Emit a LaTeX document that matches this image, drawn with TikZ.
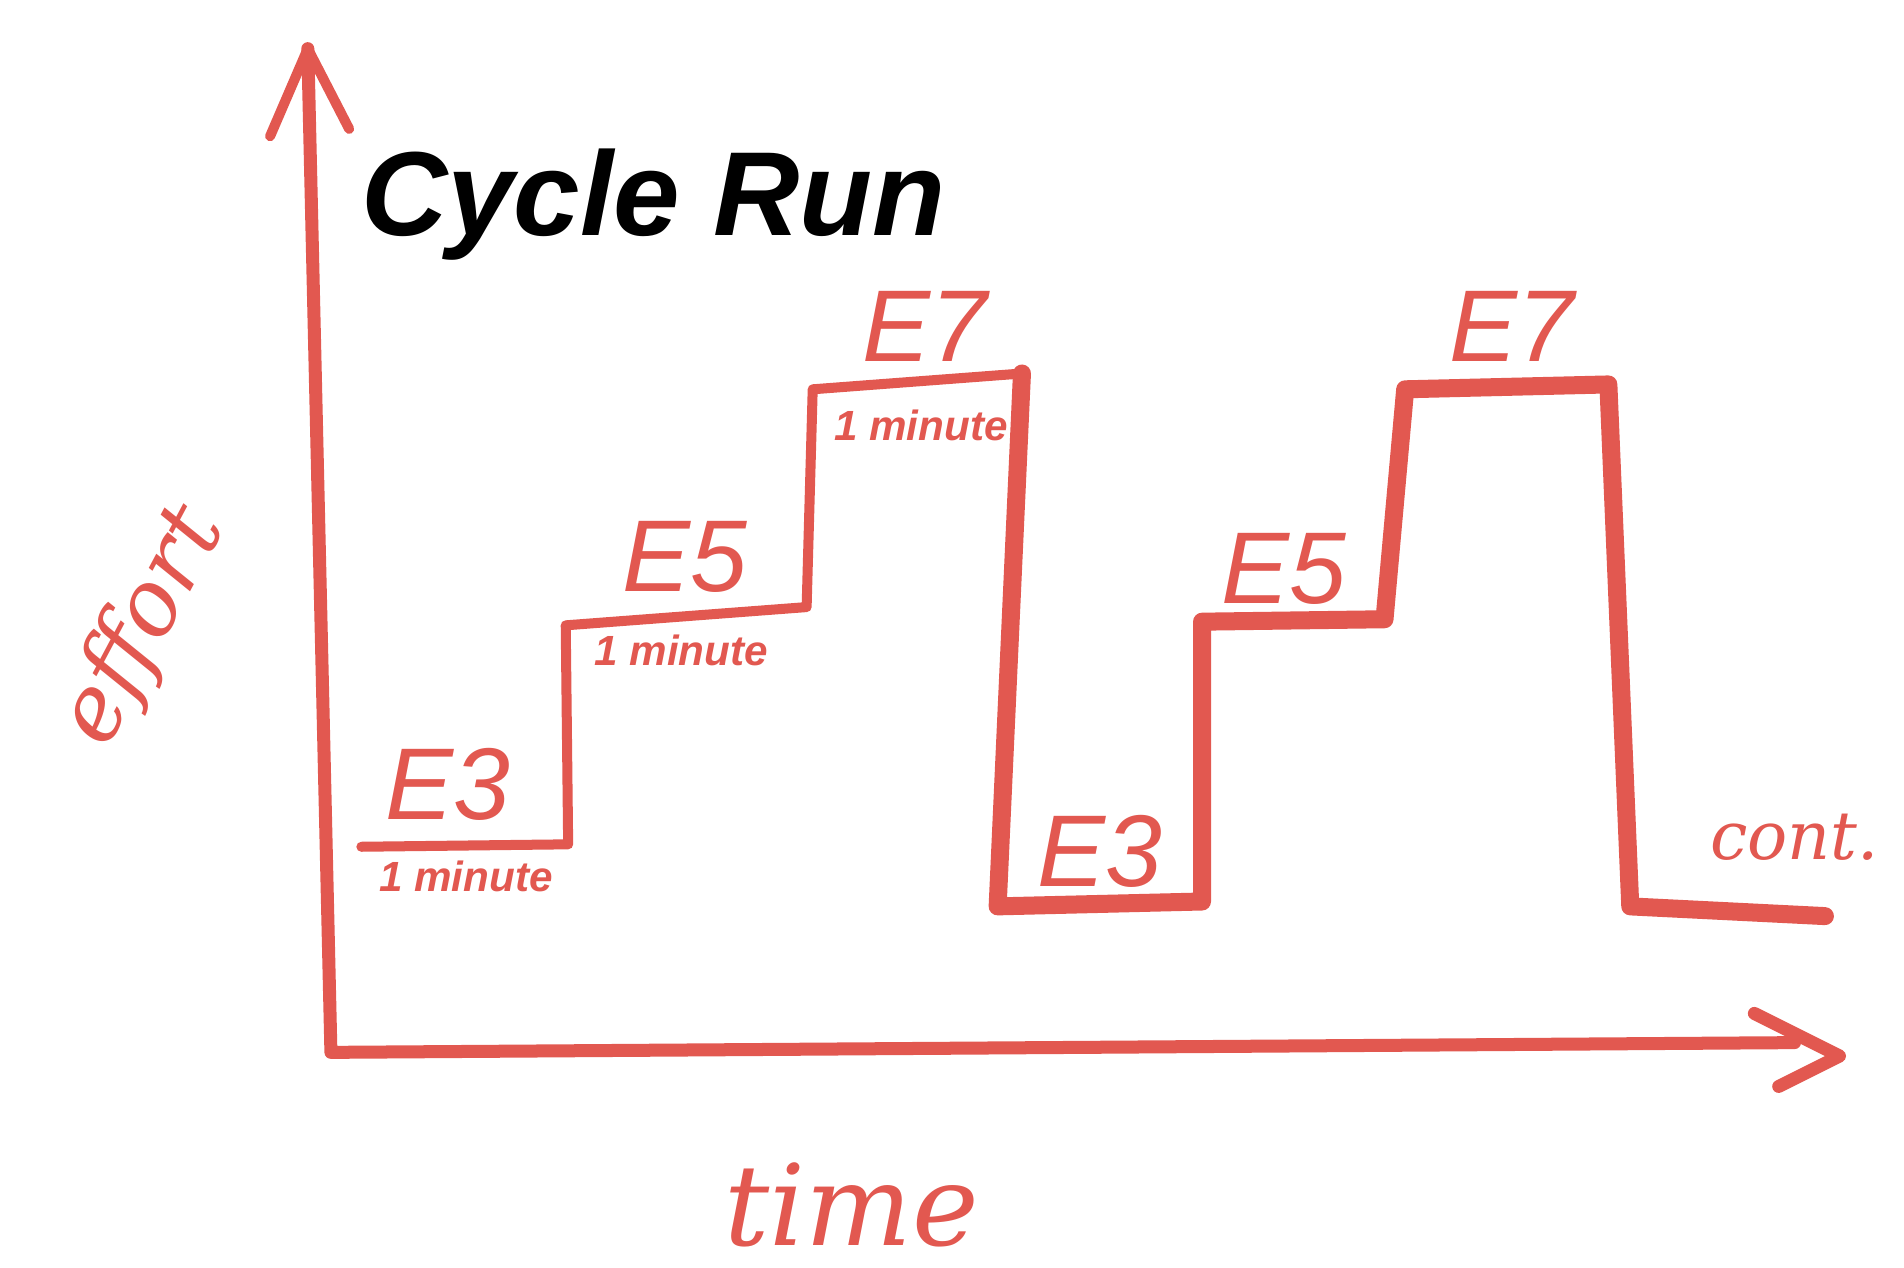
\documentclass[tikz,border=0pt]{standalone}
\usepackage{fontspec}
\setmainfont{Liberation Sans}
\begin{document}
\begin{tikzpicture}[x=0.01216cm,y=-0.01216cm,
  elab/.style={text=rd, font=\itshape\fontsize{29}{29}\selectfont},
  mlab/.style={text=rd, font=\bfseries\itshape\fontsize{12}{12}\selectfont},
  hand/.style={text=rd}]
\definecolor{rd}{RGB}{226,88,80}
\useasboundingbox[fill=white] (0,0) rectangle (1565,1042);
\coordinate (o) at (272,865);
\coordinate (yt) at (253,40);
\coordinate (xt) at (1475,857);
\draw[rd,line width=1.3mm,line cap=round,line join=round] (yt) -- (o) -- (xt);
\draw[rd,line width=1.0mm,line cap=round,line join=round] (222,112) -- (yt) -- (287,106);
\draw[rd,line width=1.3mm,line cap=round,line join=round] (1442,833) -- (1512,868) -- (1462,893);
\draw[rd,line width=1.0mm,line join=round,line cap=round] (297,696) -- (467,694) -- (465,514) -- (663,499) -- (668,320) -- (840,307);
\draw[rd,line width=1.8mm,line join=round,line cap=round] (840,307) -- (820,745) -- (988,741) -- (988,511) -- (1138,509) -- (1155,320) -- (1322,316) -- (1340,745) -- (1500,753);
\node[font=\bfseries\itshape\fontsize{34}{34}\selectfont] (title) at (537,168) {Cycle Run};
\node[elab] (a1) at (368,645) {E3};
\node[elab] (a2) at (563,458) {E5};
\node[elab] (a3) at (760,268) {E7};
\node[elab] (a4) at (904,700) {E3};
\node[elab] (a5) at (1055,468) {E5};
\node[elab] (a6) at (1243,268) {E7};
\node[mlab] (m1) at (383,720) {1 minute};
\node[mlab] (m2) at (560,535) {1 minute};
\node[mlab] (m3) at (757,350) {1 minute};
\node[hand,font=\fontspec{DejaVu Serif}\itshape\fontsize{26}{26}\selectfont,rotate=62] (ef) at (118,515) {effort};
\node[hand,font=\fontspec{DejaVu Serif}\itshape\fontsize{32}{32}\selectfont] (tm) at (700,990) {time};
\node[hand,font=\fontspec{DejaVu Serif}\itshape\fontsize{19}{19}\selectfont] (ct) at (1475,688) {cont.};
\end{tikzpicture}
\end{document}
